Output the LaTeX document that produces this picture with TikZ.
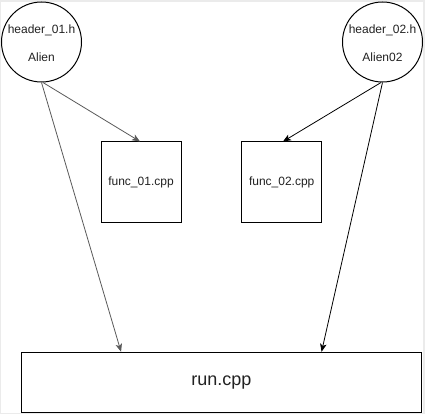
\documentclass[tikz,border=0pt]{standalone}
\usepackage{fontspec}
\setmainfont{Liberation Sans}
\usetikzlibrary{arrows.meta,calc}
\definecolor{bgframe}{HTML}{EBEBEB}
\definecolor{edgegray}{HTML}{5A5A5A}
\definecolor{txt}{HTML}{222222}
\begin{document}
\begin{tikzpicture}[x=1pt,y=-1pt,
  hdr/.style={circle,draw=black,line width=1pt,minimum size=80pt,inner sep=0pt,fill=white},
  srcbox/.style={rectangle,draw=black,line width=1pt,minimum width=80pt,minimum height=80pt,inner sep=0pt,fill=white,font=\fontsize{12}{14}\selectfont,text=txt},
  runbox/.style={rectangle,draw=black,line width=1pt,minimum width=400pt,minimum height=60pt,inner sep=0pt,fill=white,font=\fontsize{18}{21}\selectfont,text=txt},
  lbl/.style={inner sep=0pt,font=\fontsize{12}{14}\selectfont,text=txt},
  conn/.style={line width=0.8pt,-{Stealth[length=8pt,width=6.5pt,inset=2pt]}},
  connL/.style={conn,draw=edgegray,color=edgegray},
  connR/.style={conn,draw=black}
]
\useasboundingbox (0,0) rectangle (425,414);
\fill[bgframe] (0,0) rectangle (425,414);
\fill[white] (1,2.5) rectangle (423,412.5);

\node[hdr] (c1) at (41.5,42) {};
\node[hdr] (c2) at (382.5,42) {};
\node[lbl] (c1a) at (41.5,30) {header\_01.h};
\node[lbl] (c1b) at (41.5,57) {Alien};
\node[lbl] (c2a) at (382.5,30) {header\_02.h};
\node[lbl] (c2b) at (382.5,57) {Alien02};

\node[srcbox] (f1) at (141,182) {func\_01.cpp};
\node[srcbox] (f2) at (281.7,182) {func\_02.cpp};
\node[runbox] (run) at (221.3,382.3) {run.cpp};

\coordinate (r1) at ($(run.north west)!0.25!(run.north east)$);
\coordinate (r2) at ($(run.north west)!0.75!(run.north east)$);
\coordinate (t1) at ($(f1.north)+(-1,0)$);
\coordinate (t2) at ($(f2.north)+(1.3,0)$);

\draw[connL] (c1.-88) -- (t1);
\draw[connL] (c1.south) -- (r1);
\draw[connR] (c2.-92) -- (t2);
\draw[connR] (c2.south) -- (r2);
\end{tikzpicture}
\end{document}
